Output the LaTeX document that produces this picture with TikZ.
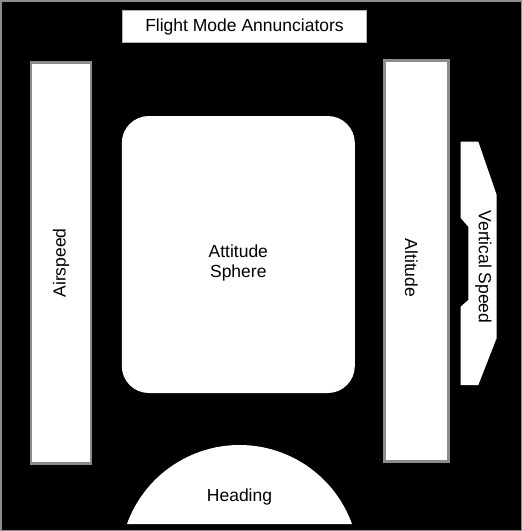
\documentclass[tikz,border=0pt]{standalone}
\usepackage{fontspec}
\setmainfont{Liberation Sans}
\usepackage{xcolor}
\definecolor{framegray}{HTML}{8C8C8C}
\usepackage{tikz}
\usetikzlibrary{shapes,positioning}

\begin{document}
\begin{tikzpicture}[
        x=1pt, y=-1pt,
        font=\fontsize{17.5}{20}\selectfont,
        tape/.style={rectangle, draw=framegray, line width=2.5pt, fill=white, inner sep=0pt},
        banner/.style={rectangle, draw=gray!60, line width=0.8pt, fill=white, minimum width=244pt, minimum height=32pt},
        sphere/.style={rectangle, rounded corners=27pt, fill=white, minimum width=233pt, minimum height=277pt}
    ]
        \useasboundingbox (0,0) rectangle (522,531);
        \fill[black] (0,0) rectangle (522,531);
        \draw[framegray, line width=1.5pt] (0.75,0.75) rectangle (521.25,530.25);
        \node[banner] (fma) at (244.5,26.5) {Flight Mode Annunciators};
        \node[tape, rotate=90, minimum width=401pt, minimum height=60pt] (airspeed) at (61,263) {Airspeed};
        \node[tape, rotate=-90, minimum width=401pt, minimum height=64pt] (altitude) at (416.5,261) {};
        \node[rotate=-90, inner sep=0pt] (altitude text) at ([xshift=-5pt, yshift=-7pt]altitude.center) {Altitude};
        \node[sphere] (attitude) at (238.3,254.5) {};
        \node[align=center, inner sep=0pt] (attitude text) at ([yshift=-8pt]attitude.center) {Attitude\\Sphere};
        % vertical speed tape
        \fill[white] (460.7,141.7) -- (478.3,141.7) -- (496.7,195) -- (496.7,338) -- (478.3,385)
            -- (460.7,385) -- (460.7,306.7) -- (468.3,300) -- (468.3,226.7) -- (460.7,218) -- cycle;
        \node[rotate=-90, inner sep=0pt] (vspeed) at (483.5,267) {Vertical Speed};
        % heading arc
        \fill[white] (127,524) arc[start angle=160.15, end angle=19.85, radius=119.6pt] -- cycle;
        \node[inner sep=0pt] (heading) at (239.5,497) {Heading};
    \end{tikzpicture}
\end{document}
